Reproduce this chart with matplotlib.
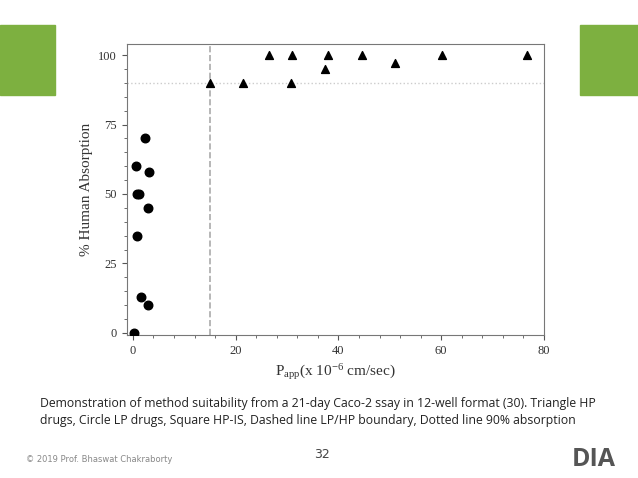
import matplotlib
matplotlib.use("Agg")
import matplotlib.pyplot as plt
from matplotlib.patches import Rectangle
from matplotlib.ticker import MultipleLocator

plt.rcParams["mathtext.fontset"] = "custom"
plt.rcParams["mathtext.rm"] = "Liberation Serif"
plt.rcParams["mathtext.it"] = "Liberation Serif:italic"

tri_x = [15, 21.5, 26.5, 31, 30.8, 37.3, 38, 44.5, 51, 60.2, 76.7]
tri_y = [90, 90, 100, 100, 90, 95, 100, 100, 97, 100, 100]
cir_x = [0.2, 0.7, 0.8, 1.2, 0.8, 2.3, 3.1, 3.0, 1.6, 3.0]
cir_y = [0, 60, 50, 50, 35, 70, 58, 45, 13, 10]
xticks = [0, 20, 40, 60, 80]
yticks = [0, 25, 50, 75, 100]

fig = plt.figure(figsize=(6.38, 4.78), dpi=100)
fig.patches.append(Rectangle((0, 1-95/478), 55/638, 70/478, transform=fig.transFigure, color="#7db040", zorder=0))
fig.patches.append(Rectangle((580/638, 1-95/478), 58/638, 70/478, transform=fig.transFigure, color="#7db040", zorder=0))

ax = fig.add_axes([0.1986, 0.299, 0.8527-0.1986, 0.908-0.299])
ax.scatter(tri_x, tri_y, marker="^", color="black", s=32, zorder=3)
ax.scatter(cir_x, cir_y, marker="o", color="black", s=38, zorder=3)
ax.axvline(15, color="#aaaaaa", ls="--", lw=1.2)
ax.axhline(90, color="#cccccc", ls=":", lw=1)
ax.set_xlim(-1.2, 80)
ax.set_ylim(-0.8, 104)
ax.set_xticks(xticks)
ax.set_yticks(yticks)
ax.xaxis.set_minor_locator(MultipleLocator(4))
ax.yaxis.set_minor_locator(MultipleLocator(5))
for s in ax.spines.values():
    s.set_color("#777777")
ax.tick_params(which="both", colors="#555555", labelcolor="#333333", labelsize=9,
               labelfontfamily="Liberation Serif")
ax.set_xlabel(r"P$_{\rm app}$(x 10$^{-6}$ cm/sec)", family="Liberation Serif", fontsize=11, color="#333333")
ax.set_ylabel("% Human Absorption", family="Liberation Serif", fontsize=11, color="#333333")

fig.text(0.063, 1-412/478, "Demonstration of method suitability from a 21-day Caco-2 ssay in 12-well format (30). Triangle HP\ndrugs, Circle LP drugs, Square HP-IS, Dashed line LP/HP boundary, Dotted line 90% absorption",
         fontsize=8.8, family="Open Sans", va="center", ha="left", color="#222222", linespacing=1.4)
fig.text(0.04, 1-459/478, "© 2019 Prof. Bhaswat Chakraborty", fontsize=6, color="#888888", va="center")
fig.text(0.505, 1-455/478, "32", fontsize=9, color="#444444", va="center", ha="center")
fig.text(0.93, 1-459/478, "DIA", fontsize=18, color="#555555", va="center", ha="center", weight="bold", family="Open Sans")
fig.savefig("out.png", dpi=100)
